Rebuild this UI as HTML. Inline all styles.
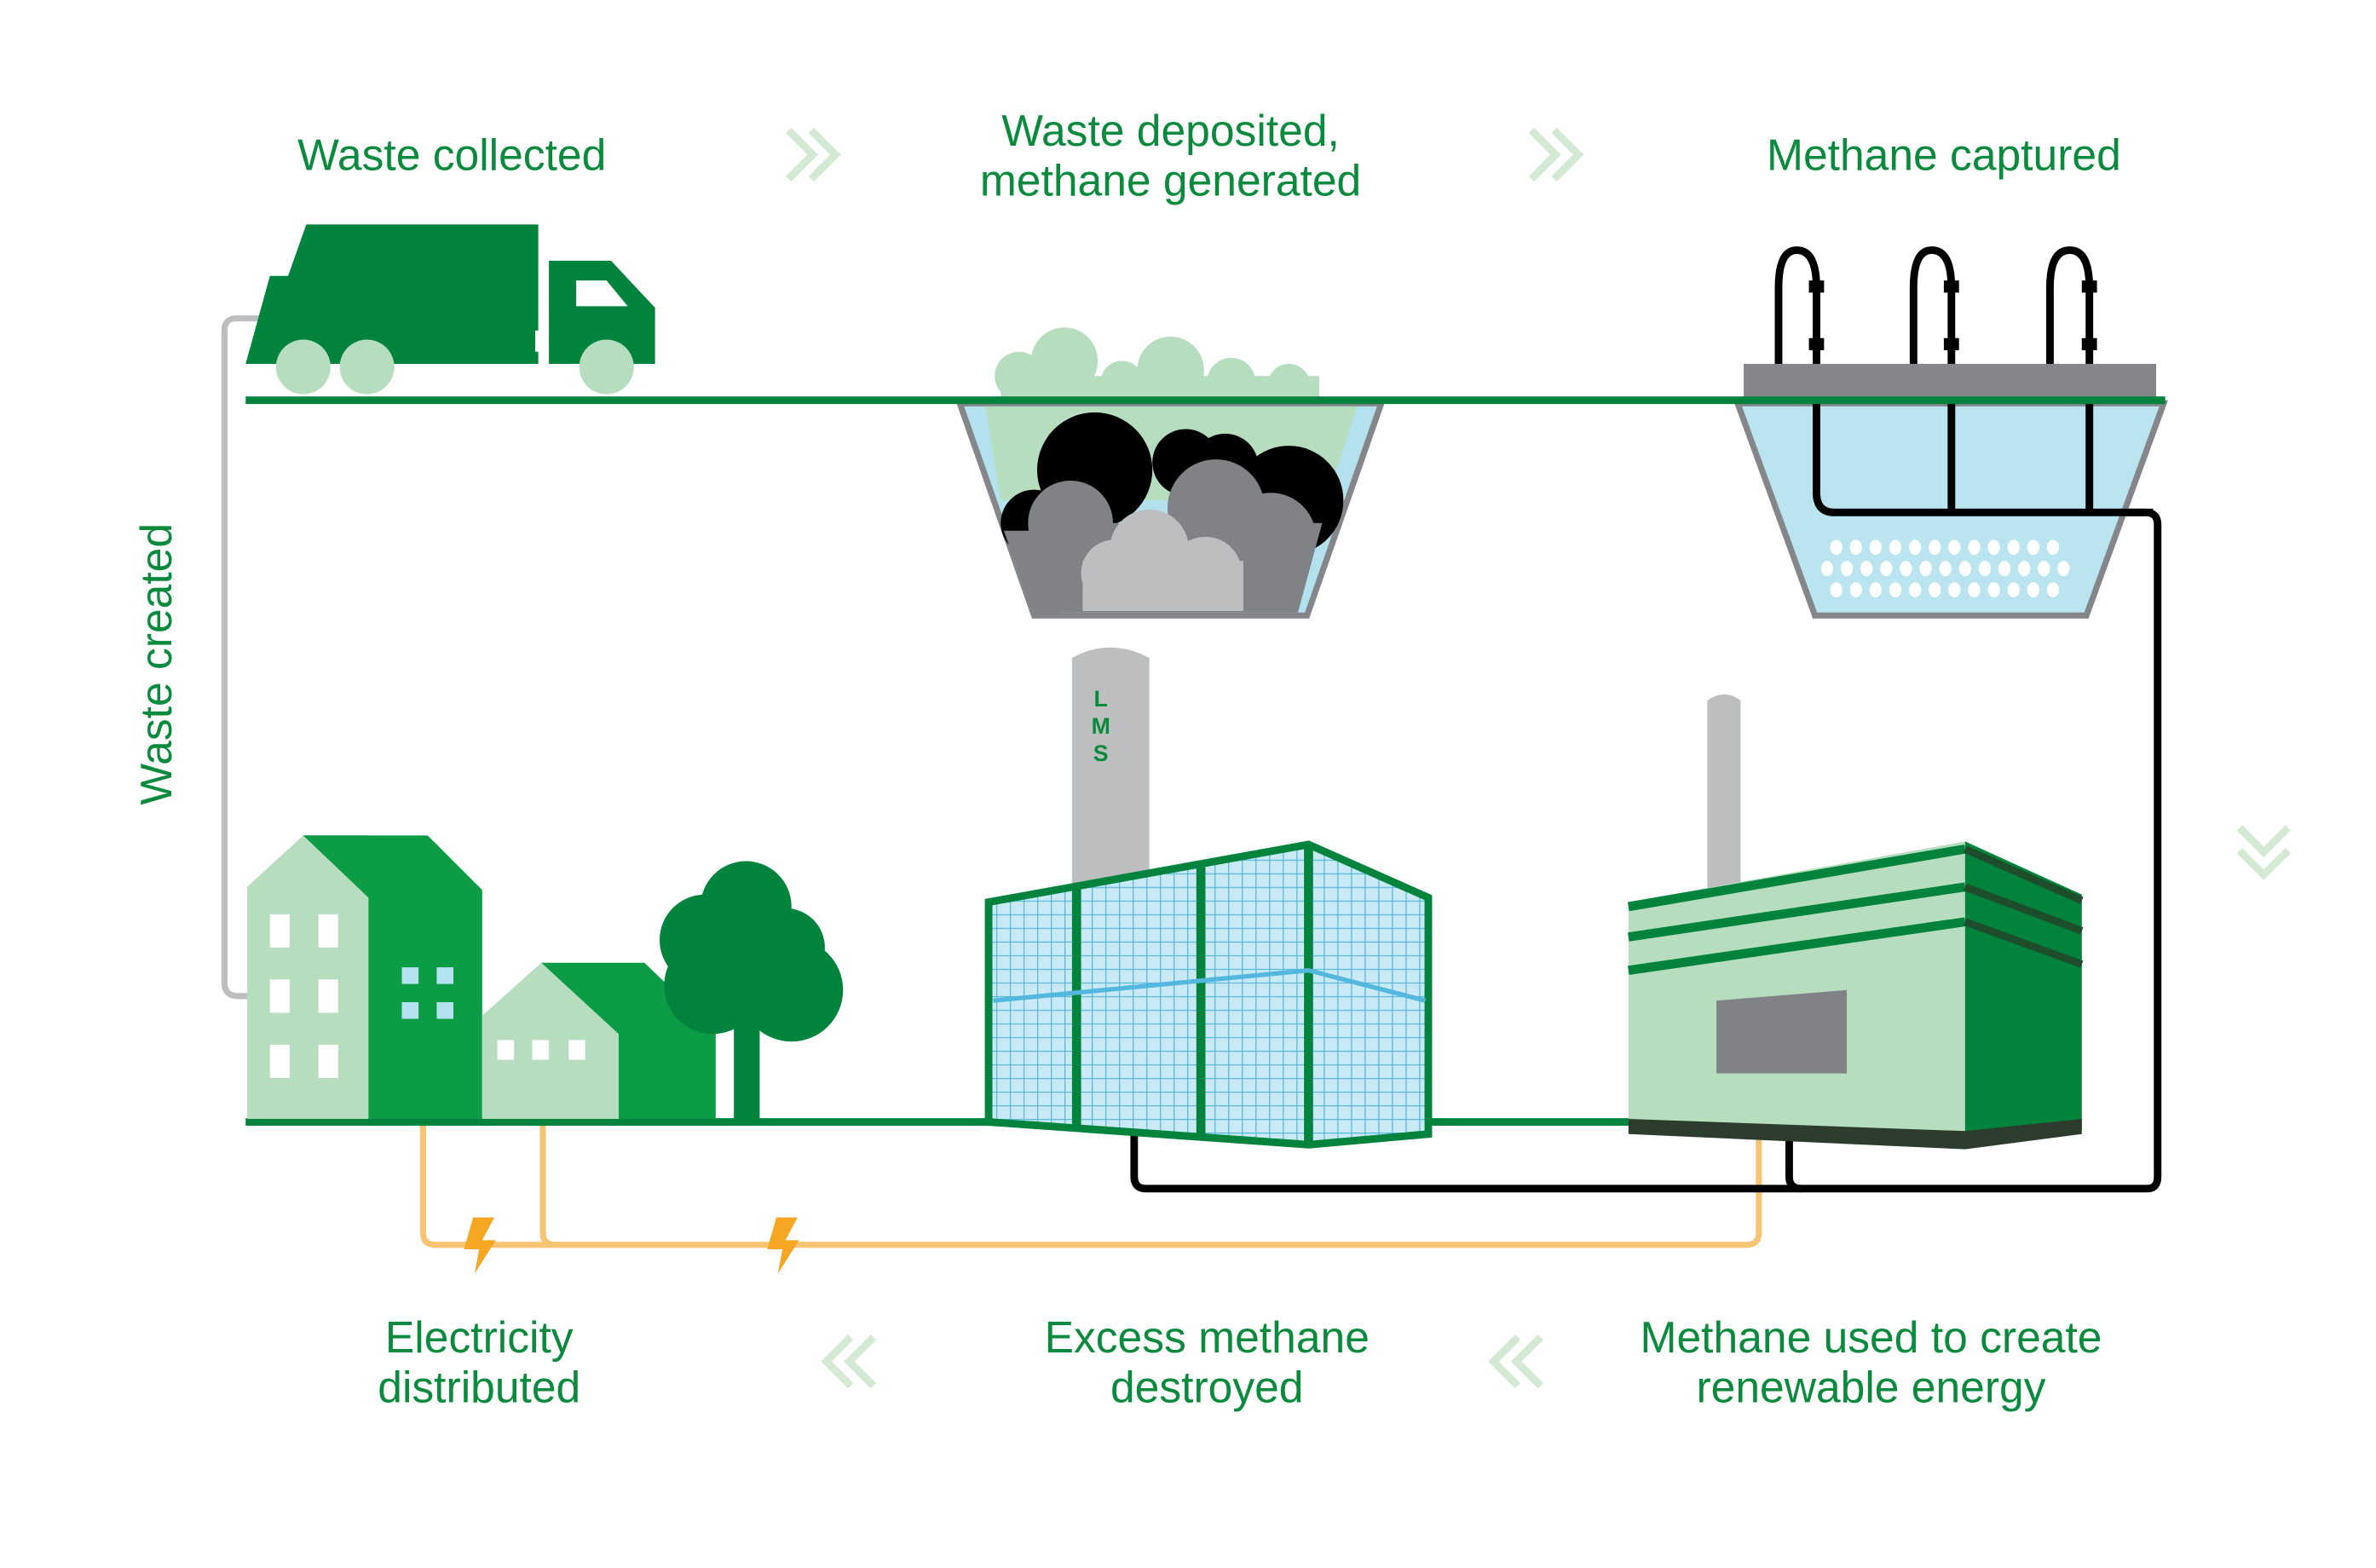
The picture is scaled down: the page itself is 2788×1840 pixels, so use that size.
<!DOCTYPE html>
<html><head><meta charset="utf-8"><style>
html,body{margin:0;padding:0;background:#fff}
svg{display:block}
text{font-family:"Liberation Sans",sans-serif;fill:#0a8a3c;font-size:29px}
</style></head><body>
<svg width="2788" height="1840" viewBox="0 0 1567 1034.2" xmlns="http://www.w3.org/2000/svg">
<!-- titles -->
<text x="298" y="112" text-anchor="middle">Waste collected</text>
<text x="772" y="96" text-anchor="middle">Waste deposited,</text>
<text x="772" y="129" text-anchor="middle">methane generated</text>
<text x="1282" y="112" text-anchor="middle">Methane captured</text>
<text x="316" y="892" text-anchor="middle">Electricity</text>
<text x="316" y="925" text-anchor="middle">distributed</text>
<text x="796" y="892" text-anchor="middle">Excess methane</text>
<text x="796" y="925" text-anchor="middle">destroyed</text>
<text x="1234" y="892" text-anchor="middle">Methane used to create</text>
<text x="1234" y="925" text-anchor="middle">renewable energy</text>
<text transform="translate(113,438) rotate(-90)" text-anchor="middle">Waste created</text>
<!-- chevrons -->
<g fill="none" stroke="#d3e9d3" stroke-width="5">
<path d="M520,86 L536,102 L520,118 M535,86 L551,102 L535,118"/>
<path d="M1010,86 L1026,102 L1010,118 M1025,86 L1041,102 L1025,118"/>
<path d="M576,882 L560,898 L576,914 M561,882 L545,898 L561,914"/>
<path d="M1016,882 L1000,898 L1016,914 M1001,882 L985,898 L1001,914"/>
<path d="M1477,546 L1493,562 L1509,546 M1477,561 L1493,577 L1509,561"/>
</g>
<!-- gray connector -->
<path d="M176,210 H156 Q148,210 148,218 V648 Q148,657 157,657 H163" fill="none" stroke="#bcbec0" stroke-width="4"/>
<!-- orange -->
<g fill="none" stroke="#f8c471" stroke-width="4">
<path d="M279,740 V813 Q279,821 287,821 H1152 Q1160,821 1160,813 V750"/>
<path d="M358,740 V813 Q358,821 366,821"/>
</g>
<g fill="#f5a623">
<path d="M312,803 L326,803 L318,818 L327,818 L313,840 L316,824 L306,824 Z"/>
<path d="M512,803 L526,803 L518,818 L527,818 L513,840 L516,824 L506,824 Z"/>
</g>
<!-- black pipes -->
<g fill="none" stroke="#000" stroke-width="5">
<path d="M748,745 V776 Q748,784 756,784 H1416 Q1423,784 1423,776 V346 Q1423,338 1415,338 H1210 Q1198,338 1198,325 V190 Q1198,165 1185,165 Q1173,165 1173,190 V242"/>
<path d="M1180,745 V776 Q1180,784 1188,784"/>
<path d="M1287,338 V190 Q1287,165 1274,165 Q1262,165 1262,190 V242"/>
<path d="M1378,338 V190 Q1378,165 1365,165 Q1352,165 1352,190 V242"/>
</g>
<g fill="#000"><rect x="1193" y="185" width="10" height="8"/><rect x="1193" y="223" width="10" height="8"/><rect x="1282" y="185" width="10" height="8"/><rect x="1282" y="223" width="10" height="8"/><rect x="1373" y="185" width="10" height="8"/><rect x="1373" y="223" width="10" height="8"/></g>
<!-- methane capture tank -->
<rect x="1150" y="240" width="272" height="24" fill="#858689"/>
<path d="M1146,266 H1427 L1376,406 H1197 Z" fill="#b3e2ee" fill-opacity="0.9" stroke="#858689" stroke-width="4"/>
<g fill="none" stroke="#000" stroke-width="5"><path d="M1198,266 V325 Q1198,338 1210,338 H1420"/><path d="M1287,266 V338"/><path d="M1378,266 V338"/></g>
<g fill="#fff">
<g id="r1"><ellipse cx="1211" cy="361" rx="4" ry="5"/><ellipse cx="1224" cy="361" rx="4" ry="5"/><ellipse cx="1237" cy="361" rx="4" ry="5"/><ellipse cx="1250" cy="361" rx="4" ry="5"/><ellipse cx="1263" cy="361" rx="4" ry="5"/><ellipse cx="1276" cy="361" rx="4" ry="5"/><ellipse cx="1289" cy="361" rx="4" ry="5"/><ellipse cx="1302" cy="361" rx="4" ry="5"/><ellipse cx="1315" cy="361" rx="4" ry="5"/><ellipse cx="1328" cy="361" rx="4" ry="5"/><ellipse cx="1341" cy="361" rx="4" ry="5"/><ellipse cx="1354" cy="361" rx="4" ry="5"/></g>
<use href="#r1" transform="translate(-6,14)"/><use href="#r1" transform="translate(7,14)"/>
<use href="#r1" transform="translate(0,28)"/>
</g>
<!-- landfill -->
<g fill="#b5ddbe">
<circle cx="672" cy="248" r="16"/><circle cx="702" cy="238" r="22"/><circle cx="740" cy="252" r="14"/><circle cx="772" cy="244" r="22"/><circle cx="812" cy="252" r="16"/><circle cx="850" cy="254" r="14"/><rect x="660" y="248" width="210" height="17"/>
</g>
<path d="M633,266 H911 L862,406 H682 Z" fill="#b3e2ee" stroke="#858689" stroke-width="4"/>
<path d="M650,268 H895 L875,330 L660,330 Z" fill="#b5ddbe"/>
<g fill="#000"><circle cx="722" cy="310" r="38"/><circle cx="782" cy="305" r="22"/><circle cx="808" cy="308" r="22"/><circle cx="850" cy="330" r="36"/><circle cx="682" cy="345" r="22"/></g>
<g fill="#808285"><circle cx="706" cy="345" r="28"/><circle cx="802" cy="335" r="32"/><circle cx="838" cy="355" r="30"/><path d="M676,360 L690,404 L856,404 L872,345 L700,345 Z"/></g>
<path d="M682,406 L662,350 L680,350 L700,406 Z" fill="#808285"/>
<g fill="#bcbec0"><circle cx="758" cy="362" r="26"/><circle cx="735" cy="378" r="22"/><circle cx="795" cy="378" r="24"/><rect x="714" y="370" width="106" height="33"/></g>
<!-- green lines -->
<path d="M162,264 H1428" stroke="#00843d" stroke-width="5"/>
<path d="M162,740 H1080" stroke="#00843d" stroke-width="5"/>
<!-- truck -->
<path d="M202,148 H355 V240 H162 L178,182 H190 Z" fill="#00843d"/>
<rect x="353" y="218" width="10" height="14" fill="#fff"/>
<path d="M362,172 H403 L432,203 V240 H362 Z" fill="#00843d"/>
<path d="M380,185 H400 L414,202 H380 Z" fill="#fff"/>
<g fill="#b5ddbe"><circle cx="200" cy="242" r="18"/><circle cx="242" cy="242" r="18"/><circle cx="400" cy="242" r="18"/></g>
<!-- houses -->
<path d="M163,585 L200,551 L243,551 V738 H163 Z" fill="#b5ddbe"/>
<path d="M200,551 H282 L318,587 V738 H243 V592 Z" fill="#0c9c45"/>
<path d="M243,592 L200,551 H243 Z" fill="#0c9c45"/>
<g fill="#fff"><rect x="178" y="603" width="13" height="22"/><rect x="210" y="603" width="13" height="22"/><rect x="178" y="646" width="13" height="22"/><rect x="210" y="646" width="13" height="22"/><rect x="178" y="689" width="13" height="22"/><rect x="210" y="689" width="13" height="22"/></g>
<g fill="#b3e2ee"><rect x="265" y="638" width="11" height="11"/><rect x="288" y="638" width="11" height="11"/><rect x="265" y="661" width="11" height="11"/><rect x="288" y="661" width="11" height="11"/></g>
<path d="M318,670 L357,635 L408,682 V738 H318 Z" fill="#b5ddbe"/>
<path d="M357,635 H425 L472,680 V738 H408 V682 Z" fill="#0c9c45"/>
<g fill="#fff"><rect x="328" y="686" width="11" height="13"/><rect x="351" y="686" width="11" height="13"/><rect x="375" y="686" width="11" height="13"/></g>
<!-- tree -->
<g fill="#00843d"><circle cx="492" cy="598" r="30"/><circle cx="465" cy="620" r="30"/><circle cx="518" cy="625" r="26"/><circle cx="522" cy="653" r="34"/><circle cx="470" cy="650" r="32"/><circle cx="495" cy="640" r="34"/><rect x="484" y="660" width="17" height="80"/></g>
<!-- LMS chimney -->
<path d="M707,434 Q732,420 758,434 V590 H707 Z" fill="#bcbec0"/>
<text x="726" y="466" text-anchor="middle" style="font-size:15px;font-weight:bold">L</text>
<text x="726" y="484" text-anchor="middle" style="font-size:15px;font-weight:bold">M</text>
<text x="726" y="502" text-anchor="middle" style="font-size:15px;font-weight:bold">S</text>
<!-- glass building -->
<defs>
<pattern id="g" width="9" height="9" patternUnits="userSpaceOnUse"><rect width="9" height="9" fill="#c9eaf4"/><path d="M0,0H9M0,0V9" stroke="#54b8de" stroke-width="1.4"/></pattern>
</defs>
<path d="M652,595 L863,557 L942,592 L942,748 L863,755 L652,740 Z" fill="url(#g)" stroke="#00843d" stroke-width="5"/>
<g stroke="#00843d" stroke-width="6" fill="none"><path d="M710,586 V746"/><path d="M792,572 V750"/><path d="M863,557 V755"/></g>
<g stroke="#54b8de" stroke-width="3" fill="none"><path d="M655,660 L863,640 L940,660"/></g>
<!-- power plant -->
<path d="M1126,462 Q1137,454 1148,462 V590 H1126 Z" fill="#bcbec0"/>
<path d="M1074,595 L1296,555 V755 L1074,740 Z" fill="#b5ddbe"/>
<path d="M1296,555 L1373,590 V745 L1296,755 Z" fill="#00843d"/>
<path d="M1074,738 L1296,746 L1373,738 V748 L1296,758 L1074,748 Z" fill="#2c3d2e"/>
<g stroke="#00843d" stroke-width="6"><path d="M1074,598 L1296,560"/><path d="M1074,618 L1296,585"/><path d="M1074,640 L1296,608"/></g>
<g stroke="#1e4d2b" stroke-width="5"><path d="M1296,560 L1373,594"/><path d="M1296,585 L1373,614"/><path d="M1296,608 L1373,636"/></g>
<path d="M1132,660 L1218,653 V708 H1132 Z" fill="#808285"/>
</svg>
</body></html>
